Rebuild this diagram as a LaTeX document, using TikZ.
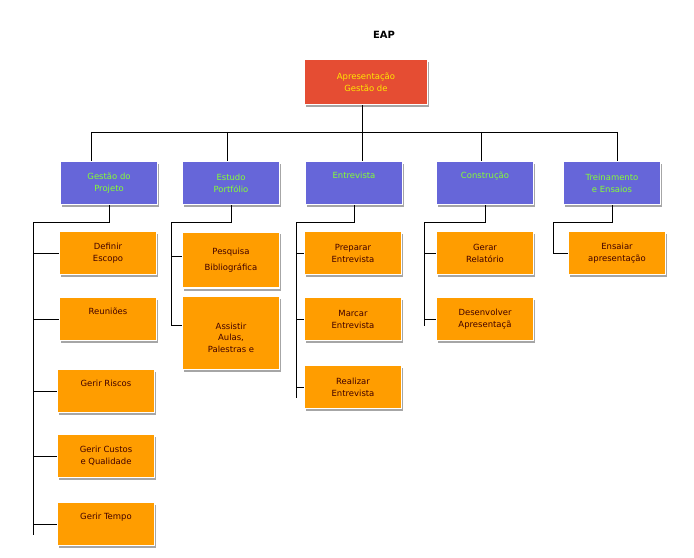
\documentclass[tikz,border=0pt]{standalone}
\usepackage{fontspec}
\setmainfont{DejaVu Sans}
\usetikzlibrary{shadows}

\begin{document}
\begin{tikzpicture}[x=1bp,y=-1bp,
    box/.style={rectangle, draw=white, line width=1.2bp, minimum width=97bp, text centered, align=center,
      font=\fontsize{8.5}{12}\selectfont, inner sep=2bp,
      drop shadow={shadow xshift=1.5bp, shadow yshift=-2.5bp, fill=gray!70, opacity=1}},
    top/.style={box, fill=red!55!brown!90, text=yellow!90!orange, minimum width=123bp, minimum height=45bp},
    phase/.style={box, fill=blue!45!cyan!60!black!70, fill=blue!60!gray!75, text=green!60!yellow!80!white, minimum height=43bp},
    task/.style={box, fill=orange!70!yellow!95!red, text=black!75!red, minimum height=43bp},
    link/.style={thick}
]
    \useasboundingbox (0,0) rectangle (694,558);
    \node[font=\bfseries\fontsize{10}{12}\selectfont] (title) at (384,35) {EAP};

    \node[top] (apres) at (366,82) {Apresentação\\Gestão de};

    \node[phase] (gestao) at (109,183) {Gestão do\\Projeto};
    \node[phase] (estudo) at (231,183) {Estudo\\Portfólio};
    \node[phase] (entrev) at (354,183) {Entrevista\\\strut};
    \node[phase] (constr) at (485,183) {Construção\\\strut};
    \node[phase] (trein) at (612,183) {Treinamento\\e Ensaios};

    \node[task] (escopo) at (108,253) {Definir\\Escopo};
    \node[task] (reun) at (108,319) {Reuniões\\\strut};
    \node[task] (riscos) at (106,391) {Gerir Riscos\\\strut};
    \node[task] (custos) at (106,456) {Gerir Custos\\e Qualidade};
    \node[task] (tempo) at (106,524) {Gerir Tempo\\\strut};

    \node[task, minimum height=56bp] (pesq) at (231,260) {Pesquisa\\[4bp]Bibliográfica};
    \node[task, minimum height=73bp, text height=40bp] (assist) at (231,333) {Assistir\\Aulas,\\Palestras e};

    \node[task] (prep) at (353,253) {Preparar\\Entrevista};
    \node[task] (marcar) at (353,319) {Marcar\\Entrevista};
    \node[task] (realiz) at (353,387) {Realizar\\Entrevista};

    \node[task] (gerar) at (485,253) {Gerar\\Relatório};
    \node[task] (desenv) at (485,319) {Desenvolver\\Apresentaçã};

    \node[task] (ensaiar) at (617,253) {Ensaiar\\apresentação};

    % barra principal
    \coordinate (barL) at (91,132);
    \coordinate (barR) at (617,132);
    \coordinate (barM) at (362,132);
    \draw[link] (apres.south -| barM) -- (barM);
    \draw[link] (barL) -- (barR);
    \draw[link] (barL) -- (gestao.north -| barL);
    \draw[link] (barL -| 227,0) -- (estudo.north -| 227,0);
    \draw[link] (barM) -- (entrev.north -| barM);
    \draw[link] (barL -| 481,0) -- (constr.north -| 481,0);
    \draw[link] (barR) -- (trein.north -| barR);

    % Gestao do Projeto
    \coordinate (gL) at (33,222);
    \coordinate (gEnd) at (33,535);
    \draw[link] (gestao.south) |- (gL) -- (gEnd);
    \foreach \t in {escopo,reun,riscos,custos,tempo}
        \draw[link] (gL |- \t.west) -- (\t.west);

    % Estudo Portfolio
    \coordinate (eL) at (171,222);
    \coordinate (eEnd) at (171,325);
    \draw[link] (estudo.south) |- (eL) -- (eEnd);
    \draw[link] (eL |- 0,256) -- (pesq.west |- 0,256);
    \draw[link] (eEnd) -- (assist.west |- eEnd);

    % Entrevista
    \coordinate (iL) at (296,222);
    \coordinate (iEnd) at (296,398);
    \draw[link] (entrev.south) |- (iL) -- (iEnd);
    \foreach \t in {prep,marcar,realiz}
        \draw[link] (iL |- \t.west) -- (\t.west);

    % Construcao
    \coordinate (cL) at (424,222);
    \coordinate (cEnd) at (424,326);
    \draw[link] (constr.south) |- (cL) -- (cEnd);
    \foreach \t in {gerar,desenv}
        \draw[link] (cL |- \t.west) -- (\t.west);

    % Treinamento
    \coordinate (tL) at (553,222);
    \draw[link] (trein.south) |- (tL) |- (ensaiar.west);
\end{tikzpicture}
\end{document}
